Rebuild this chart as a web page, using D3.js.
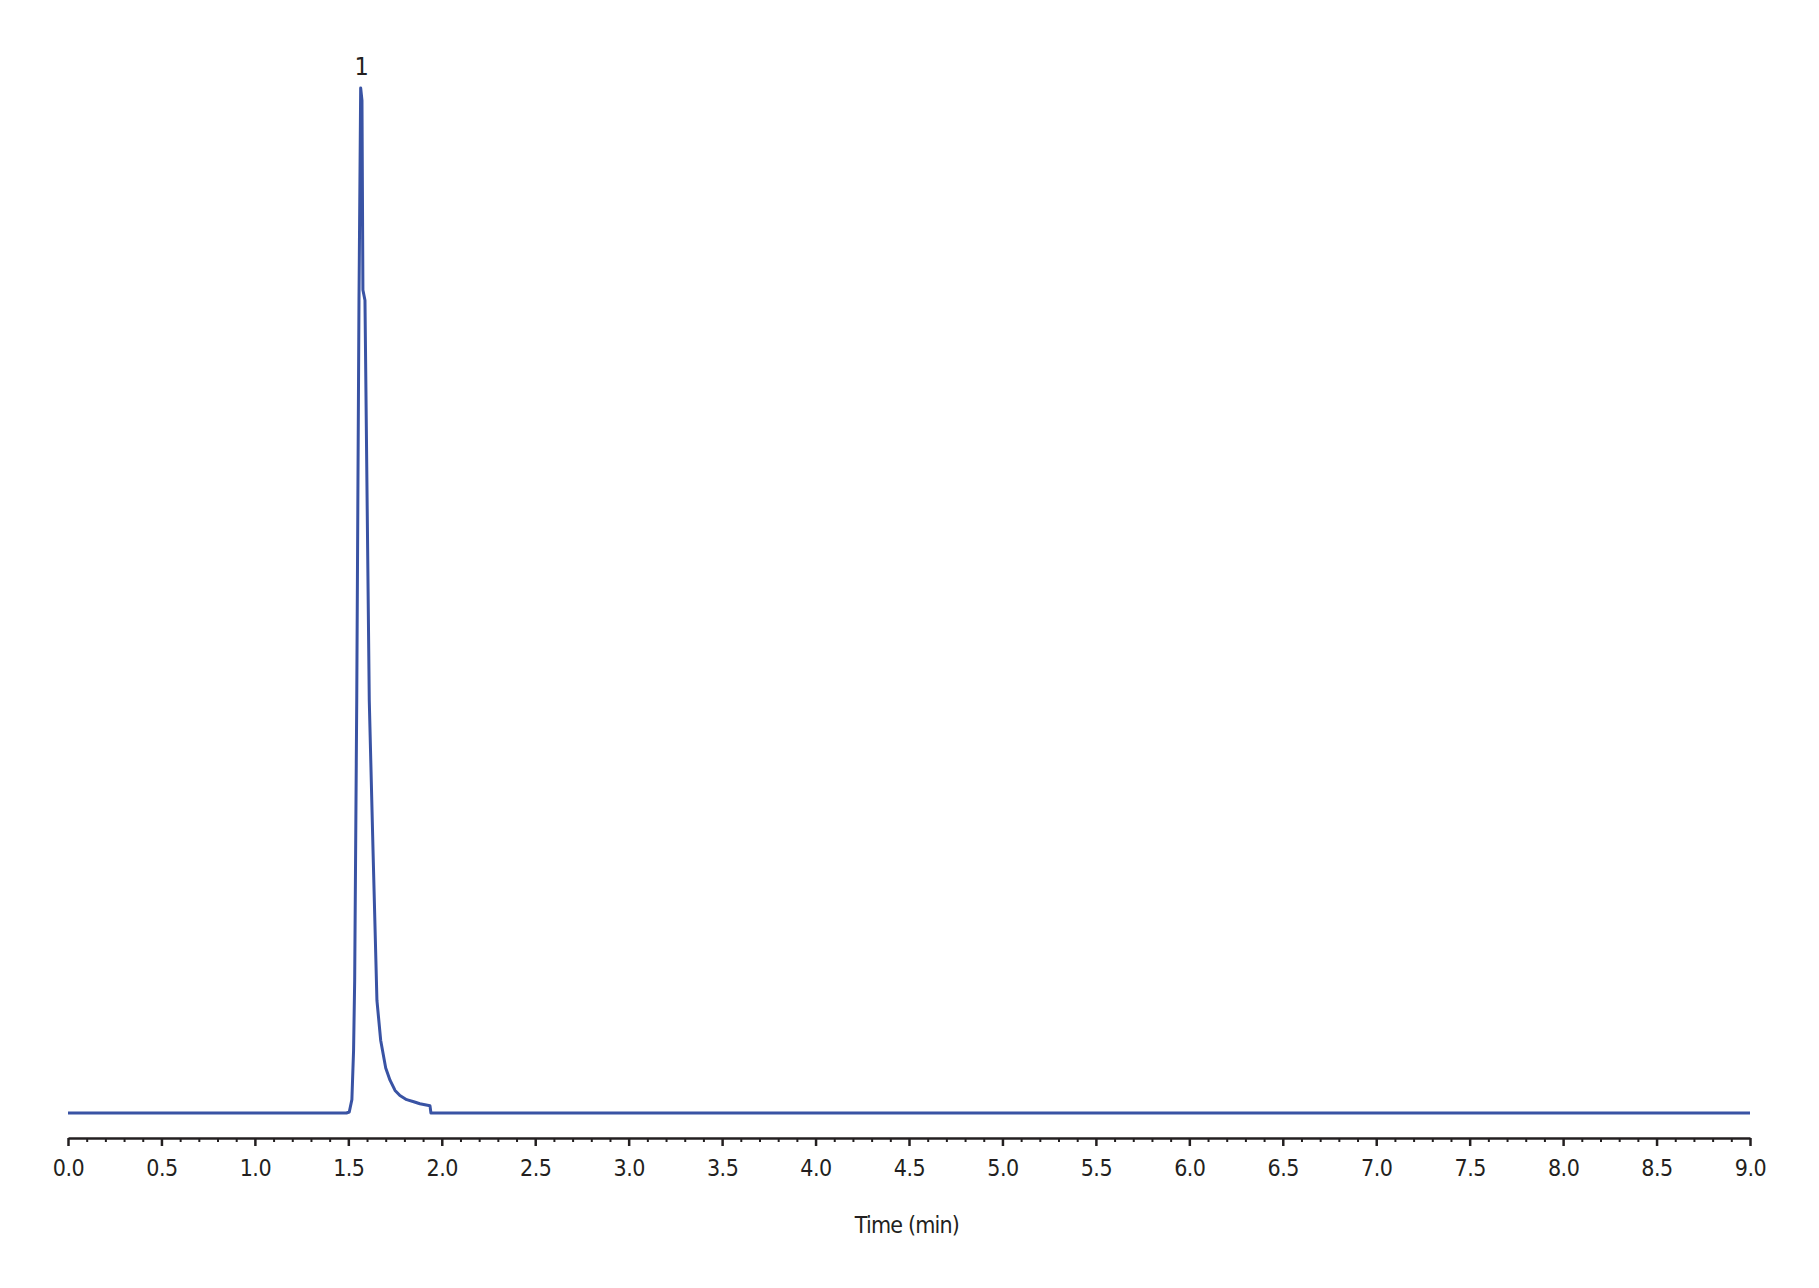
<!DOCTYPE html>
<html>
<head>
<meta charset="utf-8">
<script src="https://cdn.jsdelivr.net/npm/d3@7"></script>
<style>
  body { margin: 0; background: #fff; }
  svg { display: block; }
  text { font-family: "DejaVu Sans Condensed", "DejaVu Sans", sans-serif; fill: #231f20; }
</style>
</head>
<body>
<div id="chart"></div>
<script>
// chromatogram trace, time in min, signal in % of peak height
var times = [0.0, 0.5, 1.0, 1.49, 1.505, 1.519, 1.528, 1.534, 1.545, 1.557, 1.566,
  1.573, 1.578, 1.589, 1.612, 1.632, 1.653, 1.673, 1.700, 1.723, 1.750, 1.776,
  1.812, 1.850, 1.883, 1.910, 1.937, 1.942, 3.0, 6.0, 9.0];
var signal = [0, 0, 0, 0, 0.1, 1.3, 6.1, 13.0, 40.3, 79.3, 100,
  98.8, 80.3, 79.3, 40.3, 25.7, 11.0, 7.1, 4.4, 3.2, 2.2, 1.7,
  1.3, 1.1, 0.9, 0.8, 0.7, 0, 0, 0, 0];

var peakTimes = [1.566];
var peakLabels = ["1"];

var majorTicks = d3.range(0, 9.01, 0.5);
var minorTicks = d3.range(0, 91).map(function(d){ return d / 10 }).filter(function(d){ return Math.round(d * 10) % 5 !== 0 });

var width = 1819;
var height = 1288;

var x = d3.scaleLinear().domain([0, 9]).range([68, 1750]);
var y = d3.scaleLinear().domain([0, 100]).range([1113, 88]);
var axisY = 1138;

var svg = d3.select("#chart").append("svg")
    .attr("width", width)
    .attr("height", height);

// minor ticks
svg.append("g")
    .attr("transform", "translate(0," + axisY + ")")
    .call(d3.axisBottom(x).tickValues(minorTicks).tickSize(4).tickFormat(""))
    .call(function(g){ g.select(".domain").remove() })
    .selectAll("line").attr("stroke", "#231f20").attr("stroke-width", 2);

// major ticks + labels
var xAxis = svg.append("g")
    .attr("transform", "translate(0," + axisY + ")")
    .call(d3.axisBottom(x).tickValues(majorTicks).tickSize(8).tickSizeOuter(0)
      .tickPadding(14).tickFormat(d3.format(".1f")));
xAxis.select(".domain").attr("stroke", "#231f20").attr("stroke-width", 2.5);
xAxis.selectAll(".tick line").attr("stroke", "#231f20").attr("stroke-width", 2.5);
xAxis.selectAll(".tick text")
    .style("font-family", "'DejaVu Sans Condensed', sans-serif")
    .attr("font-size", 23)
    .attr("letter-spacing", -0.5)
    .attr("fill", "#231f20");

svg.append("text")
    .attr("x", 907)
    .attr("y", 1233)
    .attr("text-anchor", "middle")
    .attr("font-size", 23)
    .attr("letter-spacing", -0.8)
    .text("Time (min)");

var line = d3.line()
    .x(function(d, i){ return x(times[i]) })
    .y(function(d){ return y(d) });

svg.append("path")
    .datum(signal)
    .attr("d", line)
    .attr("fill", "none")
    .attr("stroke", "#3953a4")
    .attr("stroke-width", 3)
    .attr("stroke-linejoin", "round");

svg.selectAll(".peak-label")
    .data(peakTimes)
    .enter()
    .append("text")
    .attr("class", "peak-label")
    .attr("x", function(d){ return x(d) + 1 })
    .attr("y", 75)
    .attr("text-anchor", "middle")
    .attr("font-size", 25)
    .text(function(d, i){ return peakLabels[i] });
</script>
</body>
</html>
